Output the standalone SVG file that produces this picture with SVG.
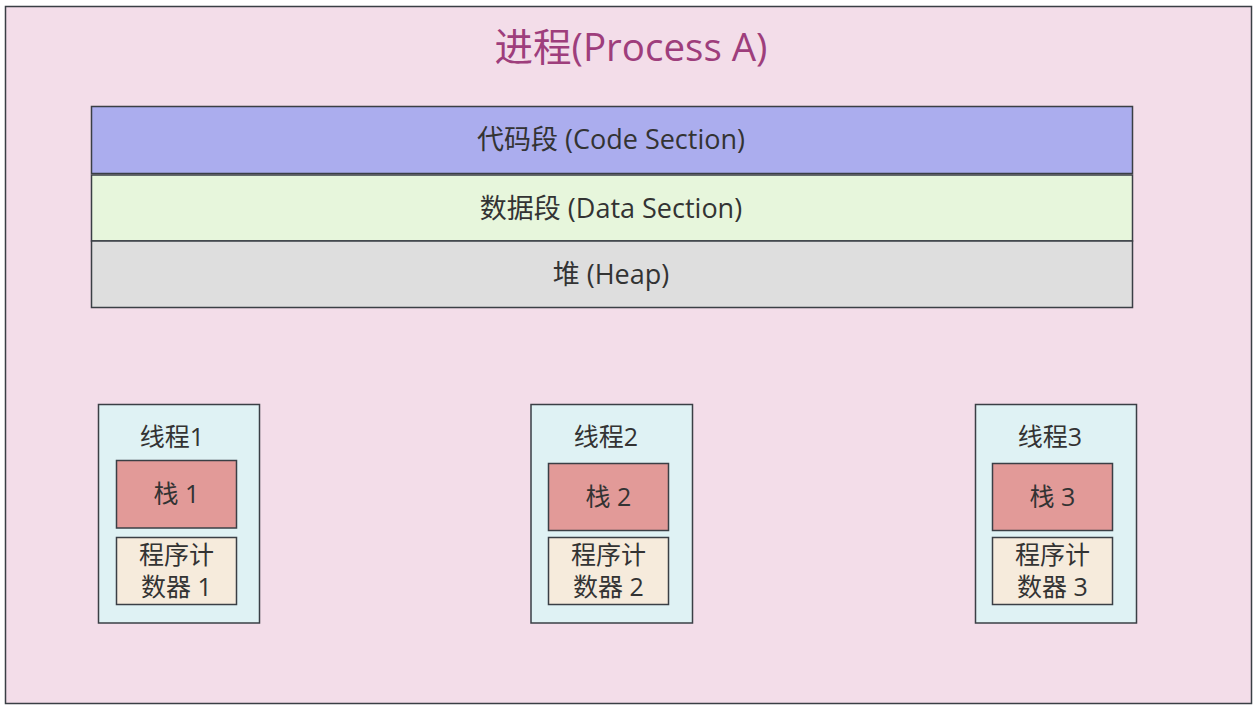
<svg xmlns="http://www.w3.org/2000/svg" width="1259" height="713" viewBox="0 0 1259 713">
<style>
.b{stroke:#3a3f45;stroke-width:1.5}
.t{font-family:"Open Sans","Noto Sans CJK SC",sans-serif;fill:#333;text-anchor:middle}
.m{font-size:27px}
.s{font-size:25px}
</style>
<rect width="1259" height="713" fill="#ffffff"/>
<g id="process">
<rect class="b" x="5.5" y="6.5" width="1246" height="697" fill="#f3dde9" stroke-width="2"/>
<text class="t" x="631" y="61" font-size="38.5" style="fill:#9e3e7c">进程(Process A)</text>
</g>
<g id="code">
<rect class="b" x="91.5" y="106.5" width="1041" height="67" fill="#abadee"/>
<text class="t m" x="611" y="149">代码段 (Code Section)</text>
</g>
<g id="data">
<rect class="b" x="91.5" y="175" width="1041" height="66" fill="#e7f6dc"/>
<text class="t m" x="611" y="218">数据段 (Data Section)</text>
</g>
<g id="heap">
<rect class="b" x="91.5" y="241" width="1041" height="66.5" fill="#dedede"/>
<text class="t m" x="611" y="284">堆 (Heap)</text>
</g>
<g id="thread1">
<rect class="b" x="98.5" y="404.5" width="161" height="218.5" fill="#dff2f4"/>
<text class="t s" x="172" y="446">线程1</text>
<rect class="b" x="116.5" y="460.5" width="120" height="67.5" fill="#e29a98"/>
<text class="t s" x="176.5" y="503">栈 1</text>
<rect class="b" x="116.5" y="537.5" width="120" height="67" fill="#f6ebdc"/>
<text class="t s" x="176.5" y="564">程序计</text>
<text class="t s" x="176.5" y="596">数器 1</text>
</g>
<g id="thread2">
<rect class="b" x="531" y="404.5" width="161.5" height="218.5" fill="#dff2f4"/>
<text class="t s" x="606" y="446">线程2</text>
<rect class="b" x="548.5" y="463.5" width="120" height="67" fill="#e29a98"/>
<text class="t s" x="608.5" y="506">栈 2</text>
<rect class="b" x="548.5" y="537.5" width="120" height="67" fill="#f6ebdc"/>
<text class="t s" x="608.5" y="564">程序计</text>
<text class="t s" x="608.5" y="596">数器 2</text>
</g>
<g id="thread3">
<rect class="b" x="975.5" y="404.5" width="161" height="218.5" fill="#dff2f4"/>
<text class="t s" x="1050" y="446">线程3</text>
<rect class="b" x="992.5" y="463.5" width="120" height="67" fill="#e29a98"/>
<text class="t s" x="1052.5" y="506">栈 3</text>
<rect class="b" x="992.5" y="537.5" width="120" height="67" fill="#f6ebdc"/>
<text class="t s" x="1052.5" y="564">程序计</text>
<text class="t s" x="1052.5" y="596">数器 3</text>
</g>
<g id="connectors"></g>
</svg>
